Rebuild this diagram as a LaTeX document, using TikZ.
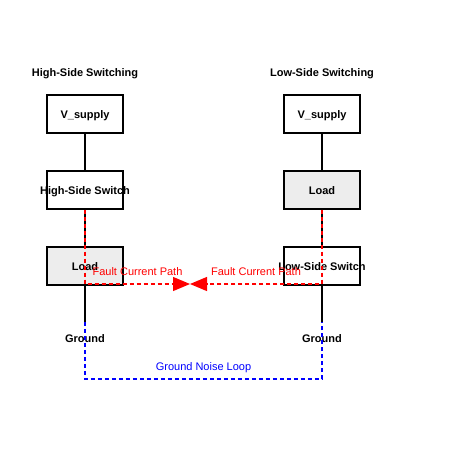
\documentclass[tikz,border=0pt]{standalone}
\usepackage{fontspec}
\setmainfont{Liberation Sans}
\usetikzlibrary{arrows.meta}

\begin{document}
\begin{tikzpicture}[x=1pt,y=-1pt,font=\fontsize{11}{13}\selectfont,
	blk/.style={draw,line width=1.2pt,minimum width=76pt,minimum height=38pt,inner sep=0pt,
		text height=9.5pt,text depth=0pt,font=\fontsize{11}{13}\selectfont\bfseries},
	gnd/.style={minimum height=30pt,inner sep=0pt,text height=10pt,text depth=0pt,
		font=\fontsize{11}{13}\selectfont\bfseries},
	wire/.style={line width=1.2pt},
	fault/.style={red,line width=1.2pt,dash pattern=on 4pt off 3pt},
	noise/.style={blue,line width=1.2pt,dash pattern=on 4pt off 3pt}]
	\useasboundingbox (0,0) rectangle (474,474);
	
	% high-side column
	\node[font=\fontsize{11}{13}\selectfont\bfseries] (hstitle) at (85,74) {High-Side Switching};
	\node[blk] (vsL) at (85,114) {V\_supply};
	\node[blk] (hsw) at (85,190) {\makebox[0pt]{High-Side Switch}};
	\node[blk,fill=black!7] (ldL) at (85,266) {Load};
	\node[gnd] (gndL) at (85,337) {Ground};
	
	% low-side column
	\node[font=\fontsize{11}{13}\selectfont\bfseries] (lstitle) at (322,74) {Low-Side Switching};
	\node[blk] (vsR) at (322,114) {V\_supply};
	\node[blk,fill=black!7] (ldR) at (322,190) {Load};
	\node[blk] (lsw) at (322,266) {\makebox[0pt]{Low-Side Switch}};
	\node[gnd] (gndR) at (322,337) {Ground};
	
	\draw[wire] (vsL) -- (hsw);
	\draw[wire] (hsw) -- (ldL);
	\draw[wire] (ldL) -- (gndL);
	\draw[wire] (vsR) -- (ldR);
	\draw[wire] (ldR) -- (lsw);
	\draw[wire] (lsw) -- (gndR);
	
	% fault paths
	\coordinate (hit) at (190,284);
	\draw[fault,-{Triangle[length=17pt,width=14pt]}] (hsw.south) |-
		node[pos=0.75,above=4pt] {Fault Current Path} (hit);
	\draw[fault,-{Triangle[length=17pt,width=14pt]}] (ldR.south) |-
		node[pos=0.75,above=4pt] {Fault Current Path} (hit);
	
	% ground loop
	\coordinate (loop) at (0,379);
	\draw[noise] (gndL.north) -- (gndL.north |- loop)
		-- node[above=2pt] {Ground Noise Loop} (gndR.north |- loop)
		-- (gndR.north);
\end{tikzpicture}
\end{document}
